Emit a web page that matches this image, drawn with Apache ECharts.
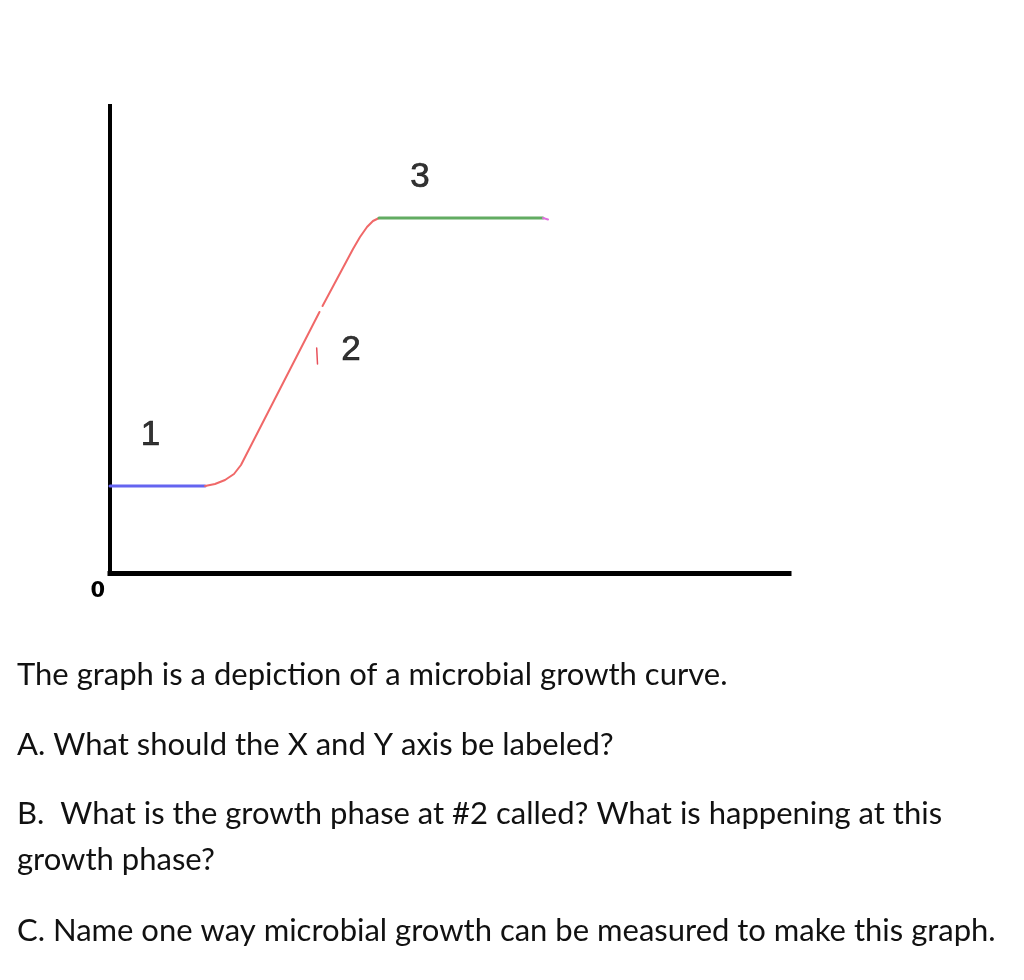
<!DOCTYPE html>
<html>
<head>
<meta charset="utf-8">
<script src="https://cdn.jsdelivr.net/npm/echarts@6/dist/echarts.min.js"></script>
<style>
html,body{margin:0;padding:0;background:#fff;}
#chart{width:1024px;height:980px;}
</style>
</head>
<body>
<div id="chart"></div>
<script>
// ---- data (x, y in arbitrary units 0..100) ----
var lagPhase = [[0, 18.55], [14.0, 18.55]];
var logPhaseA = [[14.0, 18.55], [15.46, 18.98], [16.94, 19.83], [18.26, 21.11], [19.29, 23.03], [30.85, 55.65]];
var logPhaseB = [[31.30, 56.93], [35.79, 69.08], [36.82, 71.64], [37.85, 73.77], [38.73, 75.05], [39.62, 75.69]];
var logTick = [[30.44, 47.97], [30.56, 44.56]];
var stationaryPhase = [[39.62, 75.69], [63.77, 75.69]];
var tailPhase = [[63.77, 75.69], [64.51, 75.37]];
var phaseLabels = ['1', '2', '3'];
var phaseX = [5.96, 35.49, 45.66];
var phaseY = [29.32, 47.44, 84.43];
var xTickLabels = ['0'];
var textLines = [
  'The graph is a depiction of a microbial growth curve.',
  'A. What should the X and Y axis be labeled?',
  'B.  What is the growth phase at #2 called? What is happening at this',
  'growth phase?',
  'C. Name one way microbial growth can be measured to make this graph.'
];
var textLineY = [677, 747, 816, 862, 933];

var chart = echarts.init(document.getElementById('chart'));

function lineSeries(data, color, width) {
  return {
    type: 'line', data: data, symbol: 'none', smooth: false,
    lineStyle: { color: color, width: width, cap: 'round' },
    silent: true, animation: false, z: 3
  };
}

var labelData = phaseLabels.map(function (t, i) { return { value: [phaseX[i], phaseY[i]], name: t }; });

var graphics = textLines.map(function (t, i) {
  return {
    type: 'text', left: 17, top: textLineY[i] - 18,
    style: { text: t, fill: '#111111', font: '31px Lato', textVerticalAlign: 'top' }
  };
});

chart.setOption({
  animation: false,
  backgroundColor: '#ffffff',
  grid: { left: 110, top: 104, right: 235, bottom: 407, containLabel: false },
  xAxis: {
    type: 'value', min: 0, max: 100, interval: 100,
    axisLine: { show: true, onZero: false, lineStyle: { color: '#000', width: 5, cap: 'square' } },
    axisTick: { show: false },
    splitLine: { show: false },
    axisLabel: {
      show: true, margin: 8, color: '#000',
      fontFamily: 'DejaVu Sans', fontWeight: 'bold', fontSize: 21,
      align: 'right', padding: [0, 5, 0, 0],
      formatter: function (v) { return v === 0 ? xTickLabels[0] : ''; }
    }
  },
  yAxis: {
    type: 'value', min: 0, max: 100,
    axisLine: { show: true, onZero: false, lineStyle: { color: '#000', width: 4, cap: 'butt' } },
    axisTick: { show: false },
    splitLine: { show: false },
    axisLabel: { show: false }
  },
  graphic: graphics,
  series: [
    lineSeries(lagPhase, '#6464f0', 3),
    lineSeries(logPhaseA, '#f06868', 2),
    lineSeries(logPhaseB, '#f06868', 2),
    lineSeries(logTick, '#e8505a', 1.5),
    lineSeries(stationaryPhase, '#62ac62', 3),
    lineSeries(tailPhase, '#e070e0', 2),
    {
      type: 'scatter', data: labelData, symbolSize: 0, silent: true, z: 4,
      label: {
        show: true, position: 'inside', formatter: function (p) { return p.name; },
        color: '#000', fontFamily: 'Liberation Sans', fontSize: 35,
        textBorderColor: '#000', textBorderWidth: 0.7
      }
    }
  ]
});
</script>
</body>
</html>
